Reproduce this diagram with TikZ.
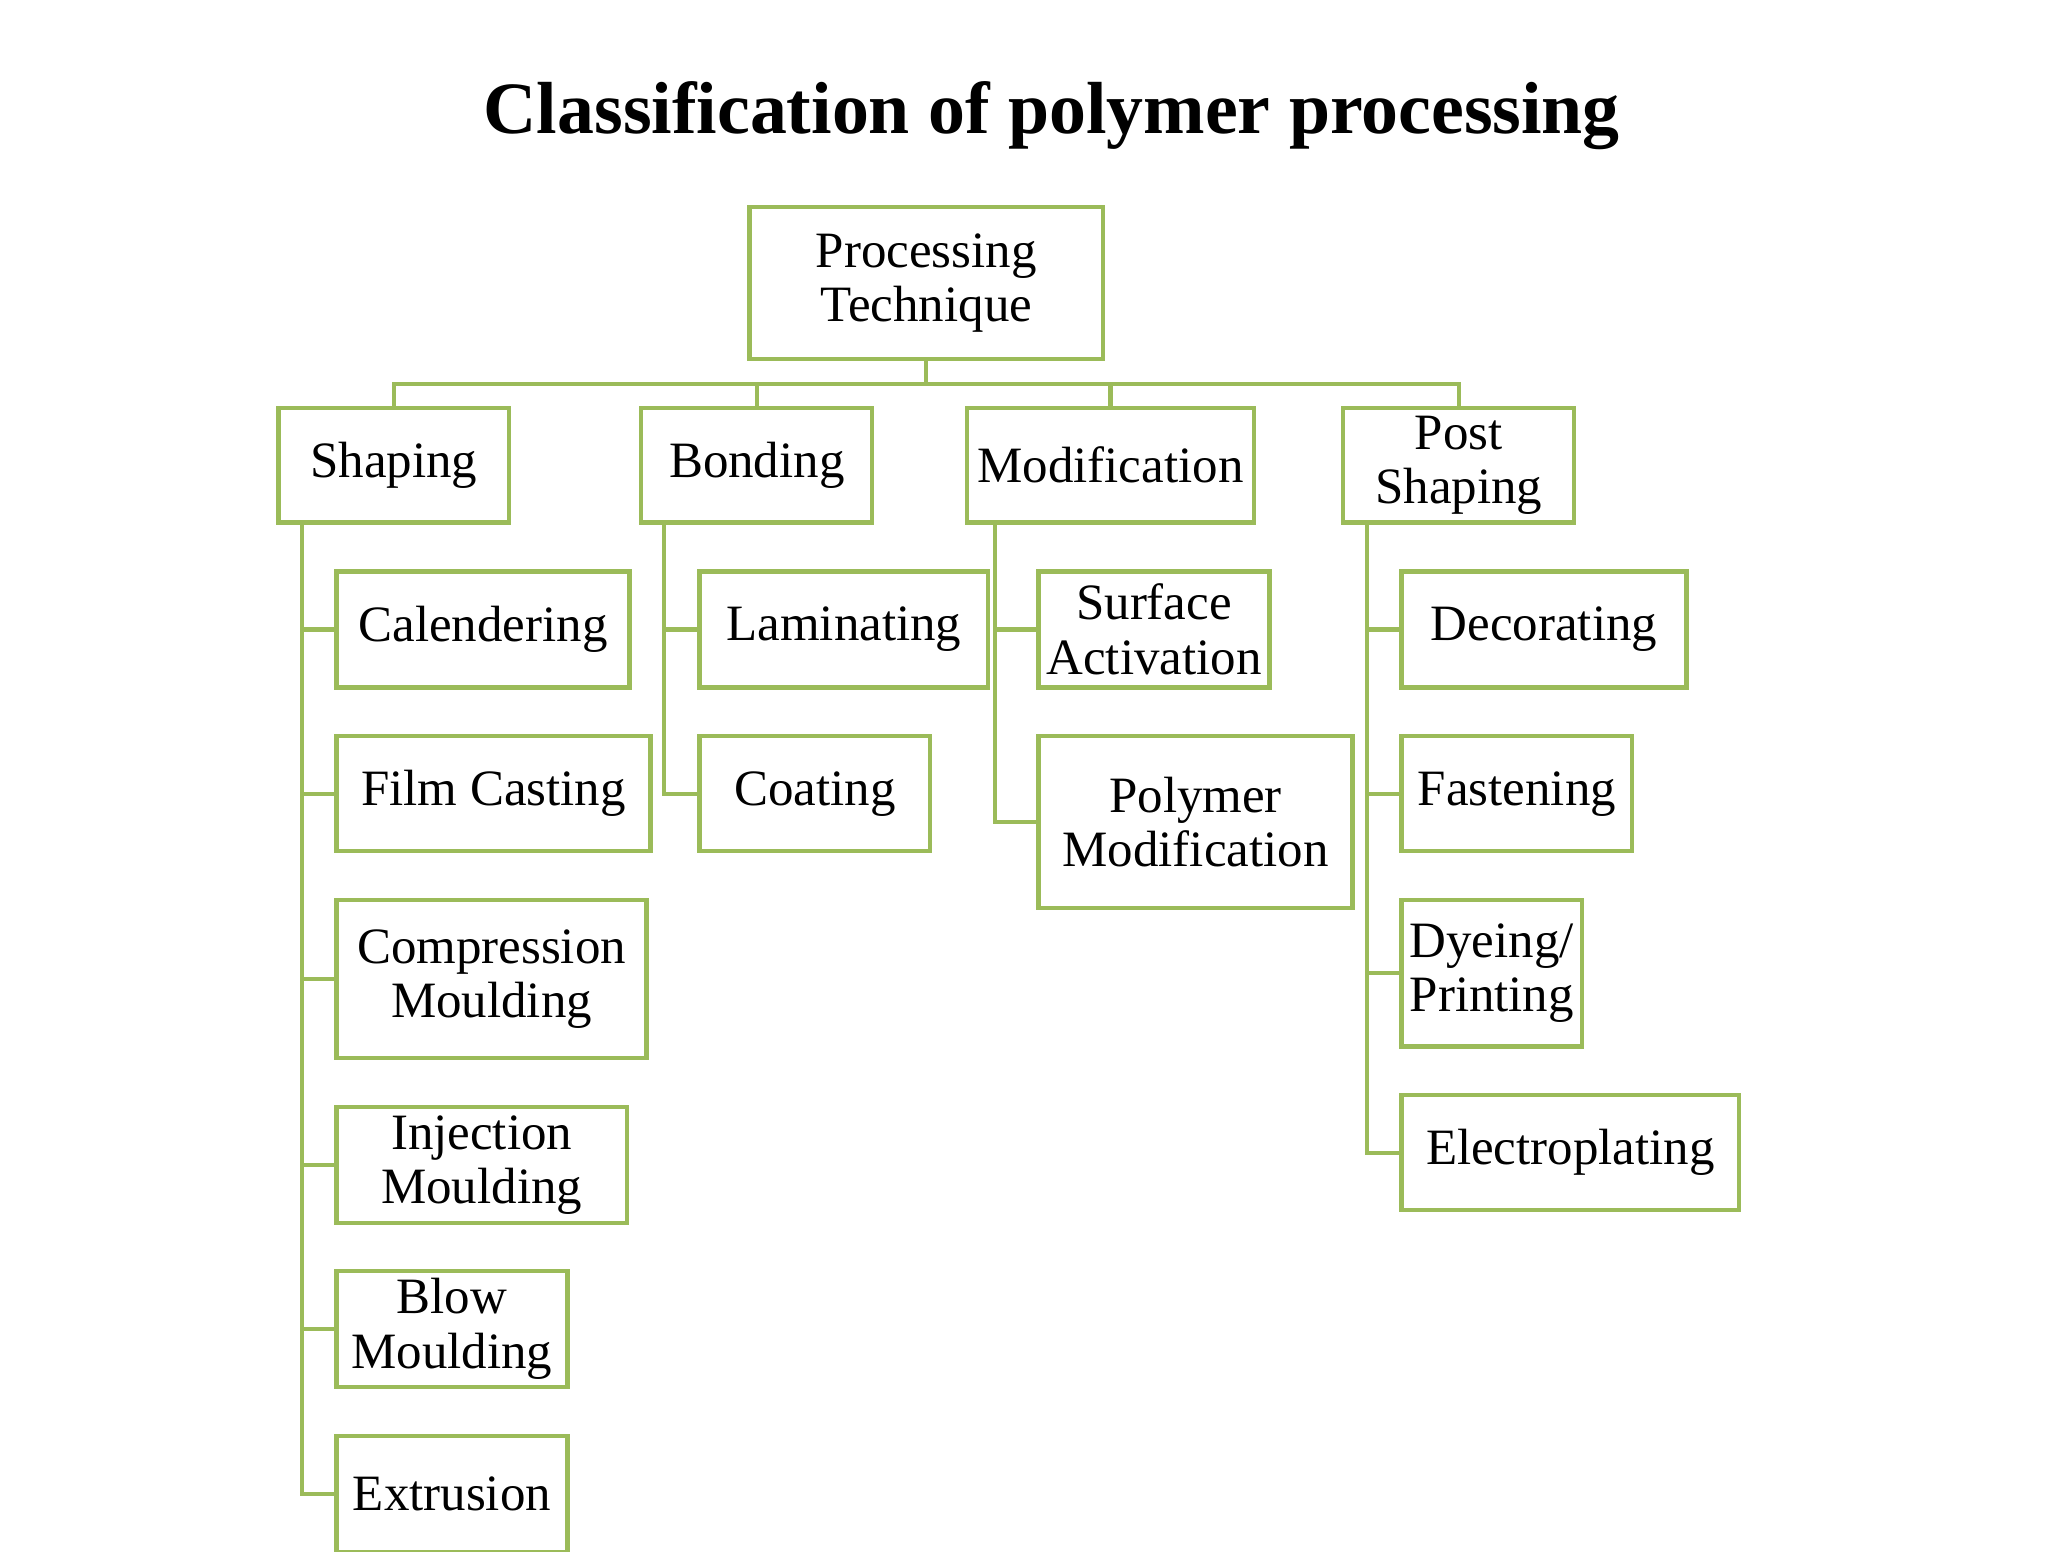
\documentclass[tikz,border=0pt]{standalone}
\usepackage{fontspec}
\setmainfont{Liberation Serif}
\begin{document}
\def\u{0.013196cm}
\definecolor{gr}{HTML}{9BBB59}
\begin{tikzpicture}[x=0.013196cm,y=-0.013196cm,
  box/.style={draw=gr,line width=1.2pt,rectangle,inner sep=0pt,align=center,font=\fontsize{14.5}{15.5}\selectfont},
  ln/.style={draw=gr,line width=1.2pt}]
\useasboundingbox (0,0) rectangle (1552,1176);
\newcommand\bx[6]{\node[box,minimum width={#4*\u},minimum height={#5*\u}] (#1) at (#2,#3) {#6};}
\node (title) at (797,88) {\fontsize{21}{24}\selectfont\bfseries Classification of polymer processing};
\bx{pt}{702}{214.5}{268}{115}{Processing\\Technique}
\bx{sh}{298.5}{352.5}{175}{87}{Shaping}
\bx{bo}{573.5}{352.5}{175}{87}{Bonding}
\bx{mo}{841.5}{352.5}{217}{87}{Modification}
\bx{ps}{1105.5}{352.5}{175}{87}{Post\\Shaping}
\bx{cal}{366}{477}{222}{88}{Calendering}
\bx{fc}{374}{601.5}{238}{87}{Film Casting}
\bx{cm}{372.5}{742}{235}{120}{Compression\\Moulding}
\bx{im}{365}{883}{220}{88}{Injection\\Moulding}
\bx{bm}{342.5}{1007}{175}{88}{Blow\\Moulding}
\bx{ex}{342.5}{1132}{175}{88}{Extrusion}
\bx{la}{639.5}{477}{219}{88}{Laminating}
\bx{co}{617.5}{601.5}{175}{87}{Coating}
\bx{sa}{874.5}{477}{175}{88}{Surface\\Activation}
\bx{pm}{906}{623}{238}{130}{Polymer\\Modification}
\bx{de}{1170}{477}{216}{88}{Decorating}
\bx{fa}{1149.5}{601.5}{175}{87}{Fastening}
\node[box,minimum width={137*\u},minimum height={111*\u},align=left] (dp) at (1130.5,737.5) {Dyeing/\\Printing};
\bx{el}{1190}{873.5}{256}{87}{Electroplating}
\coordinate (bus) at (702,291);
\draw[ln] (pt.south) -- (bus);
\draw[ln] (sh.north) |- (bus) -| (ps.north);
\draw[ln] (bo.north) -- (bo.north |- bus);
\draw[ln] (mo.north) -- (mo.north |- bus);
\coordinate (s1) at (229,396);
\coordinate (s2) at (503,396);
\coordinate (s3) at (754,396);
\coordinate (s4) at (1036,396);
\foreach \c in {cal,fc,cm,im,bm,ex} \draw[ln] (s1) |- (\c.west);
\foreach \c in {la,co} \draw[ln] (s2) |- (\c.west);
\foreach \c in {sa,pm} \draw[ln] (s3) |- (\c.west);
\foreach \c in {de,fa,dp,el} \draw[ln] (s4) |- (\c.west);
\end{tikzpicture}
\end{document}
